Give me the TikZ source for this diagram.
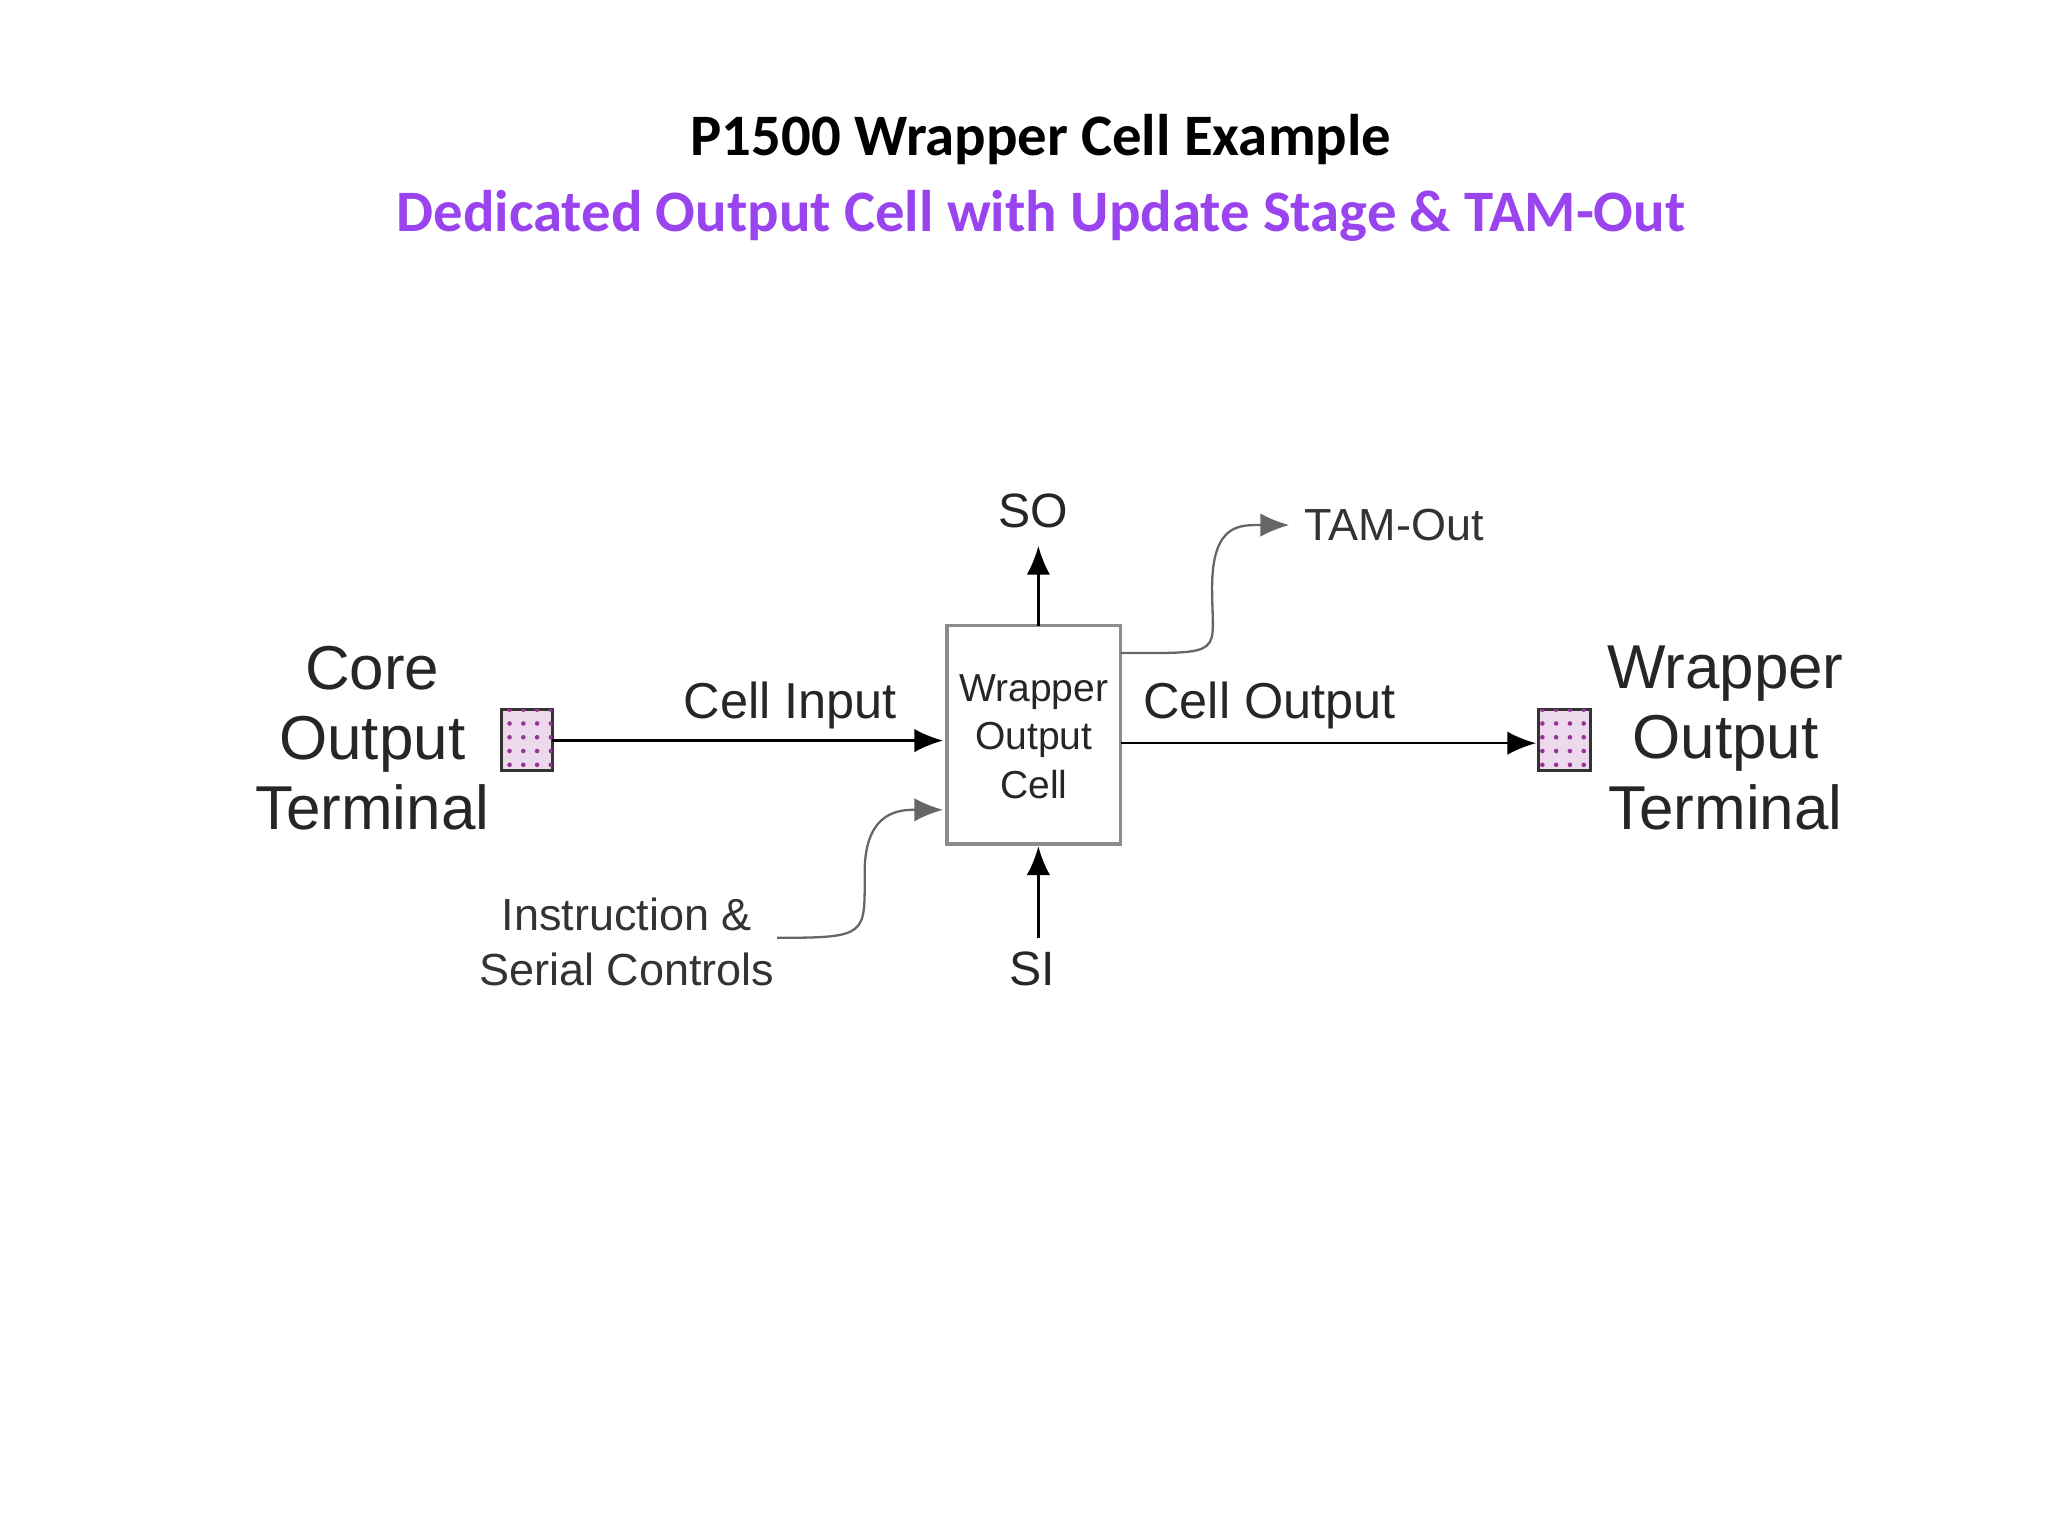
\documentclass[tikz,border=0pt]{standalone}
\usepackage{fontspec}
\setmainfont{Liberation Sans}
\newfontfamily\calfont{Carlito}
\usetikzlibrary{patterns,arrows.meta}
\begin{document}
\begin{tikzpicture}[x=0.1mm,y=-0.1mm,
  arr/.style={-{Latex[length=2.2mm,width=1.8mm]},line width=0.5pt},
  term/.style={draw=black!80,line width=0.6pt,fill=violet!15,postaction={pattern=dots,pattern color=violet!80}},
  lbl/.style={align=center,inner sep=0pt}]
\useasboundingbox (0,0) rectangle (1568,1176);
\node[lbl,font=\calfont\bfseries\fontsize{12.8}{15}\selectfont] (t1) at (797,107) {P1500 Wrapper Cell Example};
\node[lbl,font=\calfont\bfseries\fontsize{12.8}{15}\selectfont,text={rgb,255:red,153;green,68;blue,238}] (t2) at (797,165) {Dedicated Output Cell with Update Stage \& TAM-Out};
\node[draw=black!45,line width=0.8pt,minimum width=13.3mm,minimum height=16.7mm,inner sep=0pt] (box) at (791.5,562.5) {};
\node[lbl,font=\fontsize{8.5}{10.6}\selectfont,text=black!85] (bt) at (791.5,564) {Wrapper\\Output\\Cell};
\node[term,minimum width=3.9mm,minimum height=4.7mm,inner sep=0pt] (lt) at (403.5,566.5) {};
\node[term,minimum width=4.0mm,minimum height=4.7mm,inner sep=0pt] (rt) at (1198,566.5) {};
\node[lbl,font=\fontsize{13.5}{15.3}\selectfont,text=black!85] (cot) at (285,565) {Core\\Output\\Terminal};
\node[lbl,font=\fontsize{13.5}{15.3}\selectfont,text=black!85] (wot) at (1321,565) {Wrapper\\Output\\Terminal};
\node[lbl,font=\fontsize{11}{13}\selectfont,text=black!85] (ci) at (605,540) {Cell Input};
\node[lbl,font=\fontsize{11}{13}\selectfont,text=black!85] (co) at (972,540) {Cell Output};
\node[lbl,font=\fontsize{10.5}{12}\selectfont,text=black!85] (so) at (791,391) {SO};
\node[lbl,font=\fontsize{10.5}{12}\selectfont,text=black!85] (si) at (790,742) {SI};
\node[lbl,font=\fontsize{9.8}{12}\selectfont,text=black!80,anchor=west] (tam) at (998,402) {TAM-Out};
\node[lbl,font=\fontsize{9.8}{12}\selectfont,text=black!80] (isc) at (480,721) {Instruction \&\\Serial Controls};
\coordinate (c1) at (423,567);
\coordinate (c2) at (722,567);
\coordinate (c3) at (858,569);
\coordinate (c4) at (1176,569);
\coordinate (s1) at (795,479);
\coordinate (s2) at (795,418);
\coordinate (s3) at (795,718);
\coordinate (s4) at (795,648);
\coordinate (ta) at (858,500);
\coordinate (tb) at (987,402);
\coordinate (ia) at (595,718);
\coordinate (ib) at (722,620);
\draw[arr] (c1) -- (c2);
\draw[arr] (c3) -- (c4);
\draw[arr] (s1) -- (s2);
\draw[arr] (s3) -- (s4);
\draw[arr,draw=black!60] (ta) .. controls (940,500) and (928,502) .. (928,450) .. controls (928,400) and (950,402) .. (tb);
\draw[arr,draw=black!60] (ia) .. controls (665,718) and (662,716) .. (662,668) .. controls (662,620) and (690,620) .. (ib);
\end{tikzpicture}
\end{document}
